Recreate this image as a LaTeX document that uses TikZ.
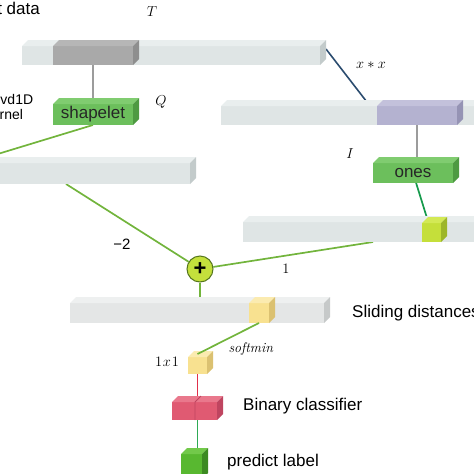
\documentclass[tikz,border=0pt]{standalone}
\usepackage{fontspec}
\newfontfamily\labelfont{Liberation Sans}
\usepackage{xcolor}
\usetikzlibrary{positioning,shapes}

\pgfdeclarelayer{bg}
\pgfsetlayers{bg,main}

\definecolor{barfront}{HTML}{DFE5E5}
\definecolor{bartop}{HTML}{E9EEEE}
\definecolor{barside}{HTML}{C3CBCB}
\definecolor{distfront}{HTML}{E4E6E6}
\definecolor{disttop}{HTML}{EEF0F0}
\definecolor{distside}{HTML}{C6C9C9}
\definecolor{segfront}{HTML}{A9A9A9}
\definecolor{segtop}{HTML}{B6B6B6}
\definecolor{segside}{HTML}{8E8E8E}
\definecolor{kernfront}{HTML}{6CBF5C}
\definecolor{kerntop}{HTML}{80CC70}
\definecolor{kernside}{HTML}{4E9A42}
\definecolor{sqfront}{HTML}{B4B2D0}
\definecolor{sqtop}{HTML}{C3C1DB}
\definecolor{sqside}{HTML}{9593B4}
\definecolor{limefront}{HTML}{C5DF3A}
\definecolor{limetop}{HTML}{D3E955}
\definecolor{limeside}{HTML}{9DB629}
\definecolor{softfront}{HTML}{F8E190}
\definecolor{softtop}{HTML}{FBEBB0}
\definecolor{softside}{HTML}{DBC171}
\definecolor{clsfront}{HTML}{E05A72}
\definecolor{clstop}{HTML}{E9788C}
\definecolor{clsside}{HTML}{BF4560}
\definecolor{outfront}{HTML}{58B830}
\definecolor{outtop}{HTML}{72C94A}
\definecolor{outside}{HTML}{3C8A22}
\definecolor{plusfill}{HTML}{C4E03C}
\definecolor{plusedge}{HTML}{56761E}
\definecolor{wiregray}{HTML}{9C9C9C}
\definecolor{wireblue}{HTML}{2B4C6F}
\definecolor{wireolive}{HTML}{72B43C}
\definecolor{wiredark}{HTML}{169A4C}
\definecolor{wirered}{HTML}{E0304A}
\definecolor{wiregreen}{HTML}{2EAA55}

% top and right faces of a box node
\newcommand{\depthfaces}[3]{%
  \fill[#2] (#1.north west) -- ++(6pt,6pt) -- ([shift={(6pt,6pt)}]#1.north east) -- (#1.north east) -- cycle;
  \fill[#3] (#1.north east) -- ++(6pt,6pt) -- ([shift={(6pt,6pt)}]#1.south east) -- (#1.south east) -- cycle;
}

\begin{document}
\begin{tikzpicture}[x=1pt,y=-1pt,node distance=26pt,
  every node/.style={inner sep=0pt}
]

\tikzstyle{slab}=[rectangle,anchor=north west,inner sep=0pt,outer sep=0pt]
\tikzstyle{lbl}=[font=\labelfont\fontsize{17}{20}\selectfont]
\tikzstyle{mth}=[font=\fontsize{15}{18}\selectfont]
\tikzset{wire/.style={line width=1.7pt,draw=wireolive}}

\useasboundingbox (0,0) rectangle (474,474);
\clip (0,0) rectangle (474,474);

% input series
\node[slab,fill=barfront,minimum width=298pt,minimum height=19pt] (tbar) at (22,46) {};
\depthfaces{tbar}{bartop}{barside}
\node[slab,fill=segfront,minimum width=80pt,minimum height=19pt] (tseg) at (53,46) {};
\depthfaces{tseg}{segtop}{segside}

\node[slab,fill=kernfront,minimum width=80pt,minimum height=21pt,lbl,text=black!85] (shapelet) at (53,104) {shapelet};
\depthfaces{shapelet}{kerntop}{kernside}

% squared series
\node[slab,fill=barfront,minimum width=270pt,minimum height=19pt] (ibar) at (221,106) {};
\depthfaces{ibar}{bartop}{barside}
\node[slab,fill=sqfront,minimum width=80pt,minimum height=19pt] (iseg) at (377,106) {};
\depthfaces{iseg}{sqtop}{sqside}

\node[slab,fill=kernfront,minimum width=80pt,minimum height=20pt,lbl,text=black!85] (ones) at (373,163) {ones};
\depthfaces{ones}{kerntop}{kernside}

% convolution outputs
\node[slab,fill=barfront,minimum width=220pt,minimum height=21pt] (lbar) at (-30,163) {};
\depthfaces{lbar}{bartop}{barside}
\coordinate (lbarin) at (-22,160);

\node[slab,fill=barfront,minimum width=250pt,minimum height=20pt] (rbar) at (243,222) {};
\depthfaces{rbar}{bartop}{barside}
\node[slab,fill=limefront,minimum width=19pt,minimum height=19pt] (rcube) at (422,223) {};
\depthfaces{rcube}{limetop}{limeside}

\node[circle,draw=plusedge,fill=plusfill,line width=1pt,minimum size=26pt,
  font=\labelfont\bfseries\fontsize{22}{22}\selectfont] (sum) at (200,269) {+};

% sliding distances
\node[slab,fill=distfront,minimum width=254pt,minimum height=20pt] (dbar) at (70,303) {};
\depthfaces{dbar}{disttop}{distside}
\node[slab,fill=softfront,minimum width=20pt,minimum height=20pt] (dseg) at (249,303) {};
\depthfaces{dseg}{softtop}{softside}

\node[slab,fill=softfront,minimum width=19pt,minimum height=17pt] (mcube) at (188,357) {};
\depthfaces{mcube}{softtop}{softside}

\node[slab,fill=clsfront,minimum width=45pt,minimum height=18pt] (clf) at (172,402) {};
\depthfaces{clf}{clstop}{clsside}
\draw[clsside,line width=0.8pt] ([xshift=23pt]clf.south west) -- ([xshift=23pt]clf.north west) -- ++(6pt,6pt);

\node[slab,fill=outfront,minimum width=21pt,minimum height=25pt] (pcube) at (181,454) {};
\depthfaces{pcube}{outtop}{outside}

% connectors
\begin{pgfonlayer}{bg}
\draw[line width=1.6pt,wiregray]
  (tseg) edge (shapelet)
  (iseg) edge (iseg |- ones.center);
\draw[line width=1.6pt,wireblue]
  ([shift={(6pt,-3pt)}]tbar.north east) edge ([xshift=-7pt]iseg.north west);
\draw[wire]
  (shapelet.south) edge (lbarin)
  ([xshift=96pt]lbar.south west) edge (sum)
  (sum) edge ([xshift=130pt]rbar.south west)
  (sum) edge (sum |- dbar.center);
\draw[line width=1.7pt,wiredark] (ones) edge (rcube);
\draw[line width=1.7pt,wirered] (mcube) edge (mcube |- clf.center);
\draw[line width=1.7pt,wiregreen] (mcube |- clf.center) edge (mcube |- pcube.center);
\end{pgfonlayer}
\draw[wire] (dseg.south) -- ([yshift=3pt]mcube.north);

% labels
\node[lbl,anchor=base east] (indata) at (40,14) {Input data};
\node[font=\labelfont\fontsize{14}{15}\selectfont,align=center] (kern) at (4,107) {Convd1D\\kernel};
\node[mth] (tlab) at (152,12) {$T$};
\node[mth] (qlab) at (161,102) {$Q$};
\node[mth] (sqlab) at (371,65) {$x*x$};
\node[mth] (ilab) at (350,154) {$I$};
\node[font=\labelfont\fontsize{15}{18}\selectfont] (wneg) at (122,244) {−2};
\node[mth] (wpos) at (286,269) {$1$};
\node[font=\fontsize{14}{16}\selectfont] (smlab) at (251,349) {\textit{softmin}};
\node[font=\fontsize{14}{16}\selectfont] (onelab) at (167,362) {$1\mkern1mu x\mkern1mu 1$};
\node[lbl,anchor=west] (distlab) at (352,313) {Sliding distances};
\node[lbl,anchor=west] (clflab) at (243,406) {Binary classifier};
\node[lbl,anchor=west] (predlab) at (227,462) {predict label};

\end{tikzpicture}
\end{document}
